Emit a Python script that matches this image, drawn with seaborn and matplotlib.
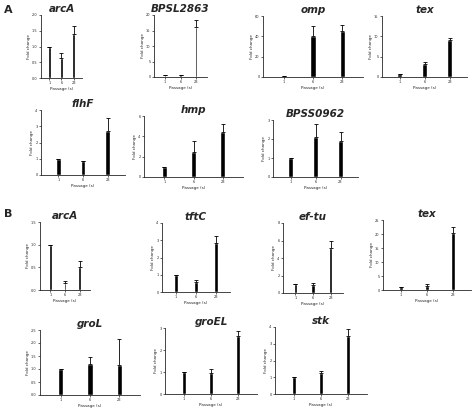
import matplotlib
matplotlib.use("Agg")
import matplotlib.pyplot as plt
import seaborn as sns
import pandas as pd

sns.set_style("ticks")
plt.rcParams['font.family'] = ['DejaVu Sans']

passages = ["1", "6", "23"]
genes = ["arcA", "BPSL2863", "omp", "tex", "flhF", "hmp", "BPSS0962",
         "arcA", "tftC", "ef-tu", "tex", "groL", "groEL", "stk"]
values = [[1.0, 0.65, 1.4], [0.8, 0.5, 16], [0.5, 40, 45], [0.8, 3.3, 9.2],
          [1.0, 0.85, 2.7], [1.0, 2.5, 4.4], [1.0, 2.1, 1.9],
          [1.0, 0.15, 0.5], [1.0, 0.6, 2.85], [1.0, 0.9, 5.2], [1.0, 1.5, 20.5],
          [1.0, 1.2, 1.15], [1.0, 0.95, 2.65], [1.0, 1.25, 3.45]]
errors = [[0, 0.13, 0.25], [0, 0, 2.5], [0, 10, 6], [0, 0.5, 0.5],
          [0, 0, 0.8], [0, 1.0, 0.8], [0, 0.7, 0.45],
          [0, 0.05, 0.15], [0, 0.1, 0.4], [0, 0.3, 0.7], [0, 0.6, 2],
          [0, 0.25, 1.0], [0, 0.2, 0.2], [0, 0.1, 0.45]]
ymax = [2.0, 20, 60, 15, 4, 6, 3, 1.5, 4, 8, 25, 2.5, 3, 4]
ystep = [0.5, 5, 20, 5, 1, 2, 1, 0.5, 1, 2, 5, 0.5, 1, 1]

# axes boxes in pixels: left, right, top, bottom
boxes = [(41, 82, 15, 78), (154, 207, 15, 77), (263, 363, 16, 77), (382, 467, 16, 77),
         (41, 125, 110, 175), (144, 243, 116, 177), (273, 358, 120, 177),
         (40, 90, 222, 290), (162, 230, 223, 292), (283, 343, 223, 293), (383, 471, 220, 290),
         (40, 140, 330, 395), (165, 257, 328, 394), (275, 367, 327, 394)]

W, H = 474, 408
fig = plt.figure(figsize=(W/100, H/100), dpi=100)
for i, g in enumerate(genes):
    l, r, t, b = boxes[i]
    ax = fig.add_axes([l/W, 1-b/H, (r-l)/W, (b-t)/H])
    df = pd.DataFrame({"p": passages, "v": values[i]})
    sns.barplot(data=df, x="p", y="v", color="black", width=0.18, ax=ax)
    ax.errorbar(range(3), values[i], yerr=[[0]*3, errors[i]], fmt="none",
                ecolor="black", elinewidth=0.6, capsize=1.5, capthick=0.6)
    ax.set_xlim(-0.7, 2.7)
    ax.set_ylim(0, ymax[i])
    ticks = [k*ystep[i] for k in range(int(round(ymax[i]/ystep[i]))+1)]
    ax.set_yticks(ticks)
    ax.tick_params(labelsize=2.5, length=1.5, width=0.5, pad=1)
    ax.set_xlabel("Passage (s)", fontsize=3, labelpad=1)
    ax.set_ylabel("Fold change", fontsize=3, labelpad=1)
    ax.set_title(g, fontsize=7.5, fontweight="bold", style="italic", pad=2)
    sns.despine(ax=ax)
    for s in ("left", "bottom"):
        ax.spines[s].set_linewidth(0.6)

fig.text(4/W, 1-10/H, "A", fontsize=8, fontweight="bold", va="center")
fig.text(4/W, 1-214/H, "B", fontsize=8, fontweight="bold", va="center")
fig.savefig("out.png", dpi=100)
